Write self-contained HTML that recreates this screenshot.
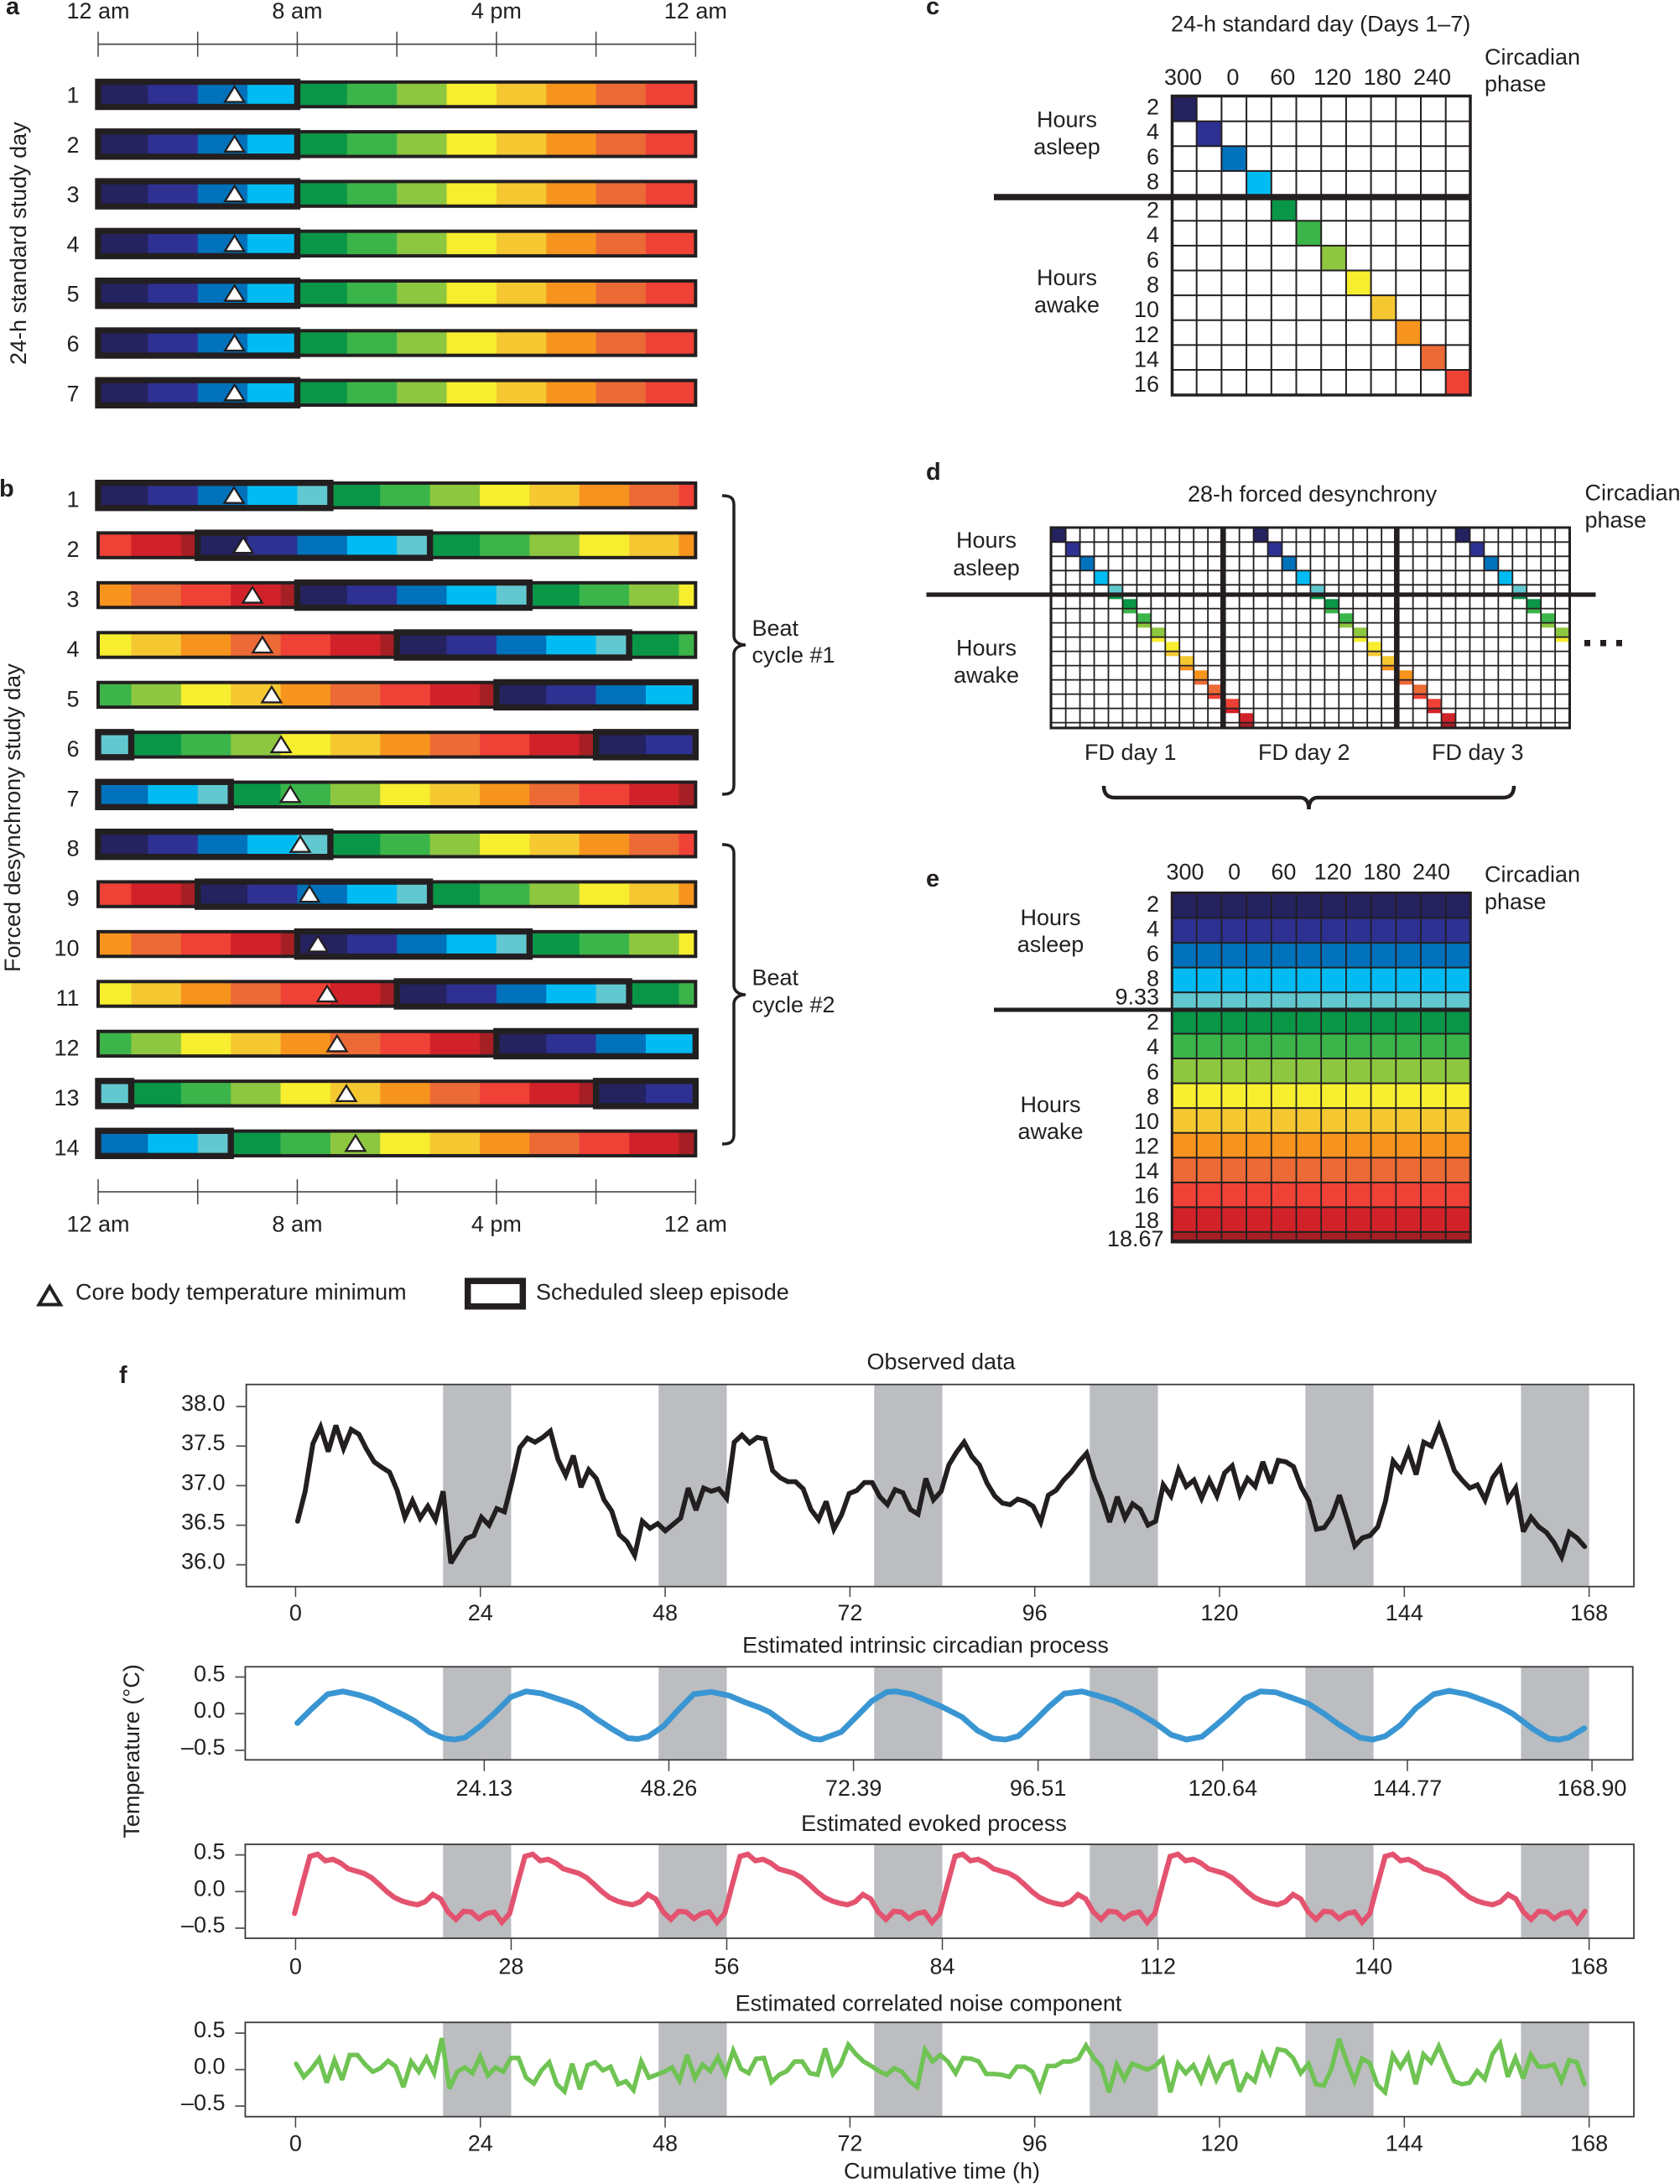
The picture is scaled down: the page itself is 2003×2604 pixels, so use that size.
<!DOCTYPE html>
<html lang="en">
<head>
<meta charset="utf-8">
<title>Forced desynchrony protocol and core body temperature decomposition</title>
<style>
html,body{margin:0;padding:0;background:#fff;}
svg{display:block;font-family:"Liberation Sans",Arial,sans-serif;font-size:27px;fill:#231f20;}
.m{text-anchor:middle;}
.e{text-anchor:end;}
.p{font-weight:bold;font-size:29px;}
</style>
</head>
<body>
<svg id="figure" xmlns="http://www.w3.org/2000/svg" width="2003" height="2604" viewBox="0 0 2003 2604">
  <rect x="0" y="0" width="2003" height="2604" fill="#fff"/>

  <g id="panel-a">
    <text class="p" x="7" y="17">a</text>
    <text transform="translate(31 435) rotate(-90)">24-h standard study day</text>
  </g>
  <g id="panel-b">
    <text class="p" x="-1" y="592">b</text>
    <text transform="translate(24 1159) rotate(-90)">Forced desynchrony study day</text>
    <path d="M861 591C870 591 875 593 875 602L875 758C875 764 880 769 889 769C880 769 875 774 875 780L875 936C875 945 870 947 861 947" fill="none" stroke="#231f20" stroke-width="3.5"/>
    <path d="M861 1007C870 1007 875 1009 875 1018L875 1175C875 1181 880 1186 889 1186C880 1186 875 1191 875 1197L875 1353C875 1362 870 1364 861 1364" fill="none" stroke="#231f20" stroke-width="3.5"/>
    <text x="896.5" y="758">Beat<tspan x="896.5" y="790">cycle #1</tspan></text>
    <text x="896.5" y="1174.5">Beat<tspan x="896.5" y="1207">cycle #2</tspan></text>
  </g>
  <g id="legend">
    <polygon points="59.2,1534 46.5,1555.5 72,1555.5" fill="#fff" stroke="#231f20" stroke-width="4"/>
    <text x="90" y="1549.5">Core body temperature minimum</text>
    <rect x="557.7" y="1527.3" width="65.6" height="30.4" fill="#fff" stroke="#231f20" stroke-width="7.5"/>
    <text x="639" y="1549.5">Scheduled sleep episode</text>
  </g>

  <g id="panel-c">
    <text class="p" x="1104" y="17">c</text>
    <text x="1396" y="37.5">24-h standard day (Days 1–7)</text>
    <text x="1770" y="77">Circadian<tspan x="1770" y="109">phase</tspan></text>
    <text class="m" x="1272" y="151.5">Hours<tspan x="1272" y="184">asleep</tspan></text>
    <text class="m" x="1272" y="340">Hours<tspan x="1272" y="372.5">awake</tspan></text>
  </g>
  <g id="panel-d">
    <text class="p" x="1104" y="572">d</text>
    <text x="1416" y="598">28-h forced desynchrony</text>
    <text x="1889.5" y="596.5">Circadian<tspan x="1889.5" y="629">phase</tspan></text>
    <text class="m" x="1176" y="653">Hours<tspan x="1176" y="686">asleep</tspan></text>
    <text class="m" x="1176" y="781.5">Hours<tspan x="1176" y="814">awake</tspan></text>
    <text x="1293" y="906">FD day 1</text>
    <text x="1500" y="906">FD day 2</text>
    <text x="1707" y="906">FD day 3</text>
    <path d="M1316 937C1316 946 1320 951 1329 951L1550 951C1556 951 1560.5 955 1560.5 965C1560.5 955 1565 951 1571 951L1792 951C1801 951 1805 946 1805 937" fill="none" stroke="#231f20" stroke-width="4.5"/>
    <rect x="1889" y="763" width="7" height="7.5" fill="#231f20"/>
    <rect x="1908" y="763" width="7" height="7.5" fill="#231f20"/>
    <rect x="1927" y="763" width="7" height="7.5" fill="#231f20"/>
  </g>
  <g id="panel-e">
    <text class="p" x="1104" y="1057">e</text>
    <text x="1770" y="1051.5">Circadian<tspan x="1770" y="1084">phase</tspan></text>
    <text class="m" x="1252.5" y="1103">Hours<tspan x="1252.5" y="1135">asleep</tspan></text>
    <text class="m" x="1252.5" y="1326">Hours<tspan x="1252.5" y="1358">awake</tspan></text>
  </g>
  <g id="panel-f">
    <text class="p" x="142" y="1649">f</text>
    <text class="m" x="1122" y="1632.5">Observed data</text>
    <text class="m" x="1103.5" y="1970.5">Estimated intrinsic circadian process</text>
    <text class="m" x="1113.5" y="2183">Estimated evoked process</text>
    <text class="m" x="1107" y="2397.5">Estimated correlated noise component</text>
    <text class="m" x="1123" y="2597.5">Cumulative time (h)</text>
    <text class="m" transform="translate(166 2088) rotate(-90)">Temperature (°C)</text>
  </g>
</svg>

<script>
// ---------- Protocol data ----------
const phaseColors = ['#24225f','#2e3192','#0072bc','#00bcf2','#62c8d0','#0a9647','#3bb54a','#8dc73f','#f6ee2f','#f5c832','#f7941d','#ec6a35','#ef4136','#d12229','#a61f24'];
const standardPhaseHours = [2,2,2,2,2,2,2,2,2,2,2,2];
const standardPhaseColors = [0,1,2,3,5,6,7,8,9,10,11,12];
const standardSleepHours = 8;
const standardDayHours = 24;
const standardDays = ['1','2','3','4','5','6','7'];
const standardMinimumHours = [5.48,5.48,5.48,5.48,5.48,5.48,5.48];
const fdPhaseHours = [2,2,2,2,1.33,2,2,2,2,2,2,2,2,2,0.67];
const fdSleepHours = 9.33;
const fdCycleHours = 28;
const fdDays = ['1','2','3','4','5','6','7','8','9','10','11','12','13','14'];
const fdMinimumHours = [5.46,5.83,6.2,6.6,6.97,7.35,7.72,8.12,8.49,8.83,9.2,9.6,9.97,10.34];
const clockTickHours = [0,4,8,12,16,20,24];
const clockLabelHours = [0,8,16,24];
const clockLabels = ['12 am','8 am','4 pm','12 am'];
const phaseLabels = ['300','0','60','120','180','240'];
const cRowLabels = ['2','4','6','8','2','4','6','8','10','12','14','16'];
const eRowLabels = ['2','4','6','8','9.33','2','4','6','8','10','12','14','16','18','18.67'];
const dDayStartColumns = [0,14,28];

// ---------- Temperature data ----------
const scheduledSleepStartHours = [19.15,47.15,75.15,103.15,131.15,159.15];
const scheduledSleepDurationHours = 8.85;
const observedValues = [36.55,36.93,37.53,37.74,37.43,37.76,37.47,37.71,37.65,37.46,37.30,37.23,37.17,36.94,36.60,36.81,36.59,36.74,36.57,36.93,36.02,36.18,36.33,36.37,36.60,36.50,36.71,36.67,37.05,37.48,37.60,37.55,37.61,37.69,37.33,37.13,37.38,36.98,37.20,37.09,36.82,36.68,36.38,36.29,36.12,36.55,36.46,36.52,36.43,36.51,36.59,36.97,36.69,36.97,36.93,36.96,36.84,37.55,37.64,37.54,37.61,37.59,37.19,37.10,37.05,37.05,36.96,36.70,36.57,36.80,36.45,36.63,36.90,36.94,37.04,37.04,36.86,36.76,36.95,36.91,36.70,36.64,37.09,36.82,36.93,37.26,37.42,37.55,37.37,37.26,37.03,36.87,36.78,36.76,36.83,36.80,36.74,36.54,36.88,36.94,37.07,37.17,37.30,37.41,37.09,36.84,36.54,36.86,36.59,36.77,36.70,36.50,36.55,37.01,36.87,37.20,36.99,37.07,36.84,37.07,36.87,37.16,37.25,36.89,37.09,36.99,37.30,37.03,37.32,37.30,37.24,36.98,36.81,36.45,36.47,36.61,36.88,36.57,36.24,36.34,36.37,36.48,36.80,37.31,37.19,37.44,37.14,37.55,37.50,37.75,37.48,37.19,37.07,36.97,37.01,36.82,37.10,37.23,36.82,36.97,36.42,36.60,36.48,36.41,36.28,36.10,36.41,36.34,36.23];
const circadianHours = [-0.3,1.68,3.67,5.66,7.66,9.65,11.64,13.64,14.97,16.96,18.95,20.28,21.61,23.6,25.6,27.59,29.59,31.58,33.57,35.57,36.9,38.89,40.88,42.88,44.2,45.53,47.53,49.52,51.51,53.84,56.16,58.16,60.15,61.48,63.47,65.47,67.13,68.12,70.78,72.78,74.77,76.76,77.94,79.94,81.94,83.94,86.6,88.6,90.6,92.26,93.93,95.93,97.93,99.92,102.26,104.25,106.59,109.25,111.92,113.91,115.91,117.91,119.58,121.24,123.57,125.57,127.57,129.9,131.9,133.9,135.9,138.56,140.23,141.9,143.89,145.89,148.22,150.22,152.55,154.55,156.88,158.55,161.21,163.21,164.54,165.88,167.88];
const circadianValues = [-0.128,0.075,0.265,0.303,0.258,0.189,0.082,-0.021,-0.097,-0.25,-0.337,-0.353,-0.326,-0.173,0.017,0.227,0.303,0.277,0.208,0.139,0.075,-0.078,-0.212,-0.334,-0.345,-0.315,-0.173,0.055,0.265,0.296,0.246,0.158,0.082,0.017,-0.135,-0.269,-0.345,-0.353,-0.25,-0.04,0.17,0.296,0.303,0.265,0.181,0.094,-0.048,-0.231,-0.337,-0.353,-0.307,-0.116,0.094,0.273,0.303,0.246,0.17,0.036,-0.135,-0.288,-0.353,-0.315,-0.173,-0.021,0.208,0.303,0.292,0.208,0.132,-0.002,-0.154,-0.326,-0.353,-0.307,-0.154,0.075,0.265,0.311,0.265,0.189,0.094,-0.002,-0.212,-0.337,-0.356,-0.326,-0.2];
const evokedValues = [
-0.30,0.10,0.48,0.51,0.42,0.44,0.39,0.31,0.28,0.25,0.19,0.10,0.00,-0.08,-0.13,-0.16,-0.18,-0.14,-0.04,-0.10,-0.28,-0.38,-0.27,-0.28,-0.37,-0.30,-0.28,-0.42,
-0.30,0.10,0.48,0.51,0.42,0.44,0.39,0.31,0.28,0.25,0.19,0.10,0.00,-0.08,-0.13,-0.16,-0.18,-0.14,-0.04,-0.10,-0.28,-0.38,-0.27,-0.28,-0.37,-0.30,-0.28,-0.42,
-0.30,0.10,0.48,0.51,0.42,0.44,0.39,0.31,0.28,0.25,0.19,0.10,0.00,-0.08,-0.13,-0.16,-0.18,-0.14,-0.04,-0.10,-0.28,-0.38,-0.27,-0.28,-0.37,-0.30,-0.28,-0.42,
-0.30,0.10,0.48,0.51,0.42,0.44,0.39,0.31,0.28,0.25,0.19,0.10,0.00,-0.08,-0.13,-0.16,-0.18,-0.14,-0.04,-0.10,-0.28,-0.38,-0.27,-0.28,-0.37,-0.30,-0.28,-0.42,
-0.30,0.10,0.48,0.51,0.42,0.44,0.39,0.31,0.28,0.25,0.19,0.10,0.00,-0.08,-0.13,-0.16,-0.18,-0.14,-0.04,-0.10,-0.28,-0.38,-0.27,-0.28,-0.37,-0.30,-0.28,-0.42,
-0.30,0.10,0.48,0.51,0.42,0.44,0.39,0.31,0.28,0.25,0.19,0.10,0.00,-0.08,-0.13,-0.16,-0.18,-0.14,-0.04,-0.10,-0.28,-0.38,-0.27,-0.28,-0.37,-0.30,-0.28,-0.42,
-0.27];
const noiseValues = [0.08,-0.10,0.01,0.15,-0.18,0.13,-0.14,0.20,0.20,0.07,-0.03,0.02,0.12,0.04,-0.24,0.11,-0.03,0.16,-0.05,0.43,-0.26,-0.03,0.03,-0.05,0.18,-0.08,0.03,-0.03,0.16,0.16,-0.11,-0.19,-0.01,0.10,-0.20,-0.30,0.08,-0.27,0.06,0.10,-0.01,0.04,-0.20,-0.16,-0.28,0.11,-0.11,-0.07,-0.03,0.03,-0.15,0.20,-0.12,0.07,-0.02,0.17,-0.06,0.26,0.01,-0.05,0.15,0.16,-0.17,-0.07,-0.02,0.11,0.11,-0.05,-0.07,0.29,-0.06,0.07,0.34,0.21,0.11,0.05,-0.02,-0.07,0.02,-0.03,-0.16,-0.24,0.27,0.11,0.20,0.11,-0.05,0.16,0.15,0.11,-0.06,-0.06,-0.07,-0.10,0.04,0.04,-0.03,-0.27,0.05,0.05,0.11,0.11,0.15,0.33,0.16,0.04,-0.31,0.07,-0.13,0.08,0.04,0.00,0.05,0.15,-0.31,0.08,-0.05,0.06,-0.16,0.13,-0.14,0.07,0.11,-0.30,-0.07,-0.16,0.20,-0.04,0.28,0.26,0.16,-0.05,0.08,-0.20,-0.22,0.01,0.42,0.11,-0.16,0.15,0.09,-0.21,-0.31,0.20,0.03,0.20,-0.20,0.21,0.10,0.32,0.07,-0.16,-0.20,-0.18,-0.02,-0.13,0.21,0.36,-0.10,0.16,-0.12,0.20,0.04,0.04,0.07,-0.16,0.13,0.10,-0.20];
const observedYTicks = [38.0,37.5,37.0,36.5,36.0];
const observedYLabels = ['38.0','37.5','37.0','36.5','36.0'];
const componentYTicks = [0.5,0,-0.5];
const componentYLabels = ['0.5','0.0','–0.5'];
const dayXTicks = [0,24,48,72,96,120,144,168];
const dayXLabels = ['0','24','48','72','96','120','144','168'];
const circadianXTicks = [24.13,48.26,72.39,96.51,120.64,144.77,168.90];
const circadianXLabels = ['24.13','48.26','72.39','96.51','120.64','144.77','168.90'];
const evokedXTicks = [0,28,56,84,112,140,168];
const evokedXLabels = ['0','28','56','84','112','140','168'];

// ---------- Helpers ----------
const SVGNS = 'http://www.w3.org/2000/svg';
const INK = '#231f20';
function make(parent, tag, props) {
  const el = document.createElementNS(SVGNS, tag);
  for (const key of Object.keys(props)) {
    el.setAttribute(key, props[key]);
  }
  parent.appendChild(el);
  return el;
}
function label(parent, x, y, str, anchor) {
  const el = make(parent, 'text', {x: x, y: y, 'text-anchor': anchor});
  el.textContent = str;
  return el;
}
const panelA = document.getElementById('panel-a');
const panelB = document.getElementById('panel-b');
const panelC = document.getElementById('panel-c');
const panelD = document.getElementById('panel-d');
const panelE = document.getElementById('panel-e');
const panelF = document.getElementById('panel-f');

// ---------- Panels a and b: raster rows ----------
const clockX = h => 117 + 29.68 * h;
const standardRowY = i => 112.5 + 59.3 * i;
const fdRowY = i => 590.7 + 59.43 * i;

function drawClockAxis(parent, axisY, labelY) {
  const rule = make(parent, 'line', {x1: clockX(0), x2: clockX(24), y1: axisY, y2: axisY, stroke: '#555', 'stroke-width': 1.8});
  
  
  clockTickHours.forEach(h => {
    const tick = make(parent, 'line', {x1: clockX(h), x2: clockX(h), y1: axisY - 15, y2: axisY + 15, stroke: '#444', 'stroke-width': 1.5});
    
    
  });
  clockLabelHours.forEach((h, i) => {
    const t = label(parent, clockX(h), labelY, clockLabels[i], 'middle');
    
    
  });
}

function drawRow(parent, cy, rowStart, phaseHours, colorIdx, cycleHours, sleepHours, minimumHour, rowName, labelOffset) {
  const group = make(parent, 'g', {});
  
  
  const rowEnd = rowStart + 24;
  const firstCycle = Math.floor(rowStart / cycleHours);
  const lastCycle = Math.floor(rowEnd / cycleHours);
  for (let k = firstCycle; k <= lastCycle; k++) {
    let t = k * cycleHours;
    phaseHours.forEach((dur, p) => {
      const a = Math.max(t, rowStart), b = Math.min(t + dur, rowEnd);
      if (b - a > 0.001) {
        const seg = make(group, 'rect', {x: clockX(a - rowStart), y: cy - 13, width: clockX(b - rowStart) - clockX(a - rowStart) + 0.3, height: 26, fill: phaseColors[colorIdx[p]]});
        
        
      }
      t += dur;
    });
  }
  const frame = make(group, 'rect', {x: clockX(0), y: cy - 14.7, width: clockX(24) - clockX(0), height: 29.4, fill: 'none', stroke: INK, 'stroke-width': 4});
  
  
  for (let k = firstCycle; k <= lastCycle; k++) {
    const a = Math.max(k * cycleHours, rowStart), b = Math.min(k * cycleHours + sleepHours, rowEnd);
    if (b - a > 0.001) {
      const box = make(group, 'rect', {x: clockX(a - rowStart), y: cy - 15, width: clockX(b - rowStart) - clockX(a - rowStart), height: 30, fill: 'none', stroke: INK, 'stroke-width': 7.4});
      
      
    }
  }
  const tx = clockX(minimumHour);
  const tri = make(group, 'polygon', {points: (tx) + ',' + (cy - 9.5) + ' ' + (tx - 11.5) + ',' + (cy + 9) + ' ' + (tx + 11.5) + ',' + (cy + 9), fill: '#fff', stroke: INK, 'stroke-width': 2.3});
  
  
  const num = label(group, 94.5, cy + labelOffset, rowName, 'end');
  
  
}

drawClockAxis(panelA, 52.7, 22);
standardDays.forEach((d, i) => {
  drawRow(panelA, standardRowY(i), 0, standardPhaseHours, standardPhaseColors, standardDayHours, standardSleepHours, standardMinimumHours[i], d, 10);
});
const fdColorIdx = fdPhaseHours.map((_, i) => i);
fdDays.forEach((d, i) => {
  drawRow(panelB, fdRowY(i), 24 * i, fdPhaseHours, fdColorIdx, fdCycleHours, fdSleepHours, fdMinimumHours[i], d, 14);
});
drawClockAxis(panelB, 1421, 1468.6);

// ---------- Panel c: 24-h grid ----------
const cColX = c => 1397 + 29.7 * c;
const cRowY = r => 115 + 29.64 * r;
standardPhaseColors.forEach((colorIndex, i) => {
  const cell = make(panelC, 'rect', {x: cColX(i), y: cRowY(i), width: 29.7, height: 29.64, fill: phaseColors[colorIndex]});
  
  
});
for (let c = 0; c <= 12; c++) {
  const gl = make(panelC, 'line', {x1: cColX(c), x2: cColX(c), y1: cRowY(0), y2: cRowY(12), stroke: INK, 'stroke-width': 2});
  
  
}
for (let r = 0; r <= 12; r++) {
  const gl = make(panelC, 'line', {x1: cColX(0), x2: cColX(12), y1: cRowY(r), y2: cRowY(r), stroke: INK, 'stroke-width': 2});
  
  
}
const cFrame = make(panelC, 'rect', {x: 1397.5, y: 114.5, width: 355.5, height: 356.5, fill: 'none', stroke: INK, 'stroke-width': 3.5});


const cDivider = make(panelC, 'line', {x1: 1185, x2: 1754.5, y1: 235, y2: 235, stroke: INK, 'stroke-width': 7.5});


cRowLabels.forEach((s, r) => {
  const t = label(panelC, 1382, cRowY(r) + (r < 4 ? 21.5 : 26), s, 'end');
  
  
});
phaseLabels.forEach((s, i) => {
  const t = label(panelC, 1410.5 + 59.4 * i, 101, s, 'middle');
  
  
});

// ---------- Panel d: forced desynchrony grid ----------
const dBlockX = b => 1253.7 + 207 * b;
const dColX = c => dBlockX(Math.floor(c / 12)) + (c % 12) * 16.95;
const dHourY = h => 629.3 + 8.5 * h;
dDayStartColumns.forEach(startCol => {
  for (let k = 0; k < 14; k++) {
    const col = startCol + k;
    if (col >= 36) continue;
    const top = 2 * k, bottom = 2 * k + 2;
    let t = 0;
    fdPhaseHours.forEach((dur, p) => {
      const a = Math.max(t, top), b = Math.min(t + dur, bottom);
      if (b - a > 0.001) {
        const cell = make(panelD, 'rect', {x: dColX(col), y: dHourY(a), width: 16.95, height: dHourY(b) - dHourY(a), fill: phaseColors[p]});
        
        
      }
      t += dur;
    });
  }
});
for (let c = 0; c < 36; c++) {
  const gl = make(panelD, 'line', {x1: dColX(c), x2: dColX(c), y1: dHourY(0), y2: dHourY(28), stroke: INK, 'stroke-width': 1.8});
  
  
}
let dCum = 0;
fdPhaseHours.forEach(dur => {
  dCum += dur;
  const gl = make(panelD, 'line', {x1: 1253, x2: 1871.5, y1: dHourY(dCum), y2: dHourY(dCum), stroke: INK, 'stroke-width': 1.8});
  
  
});
const dFrame = make(panelD, 'rect', {x: 1253, y: 629, width: 618.5, height: 239, fill: 'none', stroke: INK, 'stroke-width': 3});


[1, 2].forEach(b => {
  const sep = make(panelD, 'line', {x1: dBlockX(b) - 2.9, x2: dBlockX(b) - 2.9, y1: 629, y2: 868, stroke: INK, 'stroke-width': 5.6});
  
  
});
const dDivider = make(panelD, 'line', {x1: 1104.5, x2: 1902.5, y1: 709, y2: 709, stroke: INK, 'stroke-width': 5.3});



// ---------- Panel e: full grid ----------
const eColX = c => 1397 + 29.7 * c;
const eHourY = h => 1065 + 14.78 * h;
let eCum = 0;
fdPhaseHours.forEach((dur, p) => {
  for (let c = 0; c < 12; c++) {
    const cell = make(panelE, 'rect', {x: eColX(c), y: eHourY(eCum), width: 29.7, height: eHourY(eCum + dur) - eHourY(eCum), fill: phaseColors[p]});
    
    
  }
  eCum += dur;
});
for (let c = 0; c <= 12; c++) {
  const gl = make(panelE, 'line', {x1: eColX(c), x2: eColX(c), y1: eHourY(0), y2: eHourY(28), stroke: INK, 'stroke-width': 1.8});
  
  
}
eCum = 0;
fdPhaseHours.forEach((dur, p) => {
  eCum += dur;
  const gl = make(panelE, 'line', {x1: 1397, x2: 1753.5, y1: eHourY(eCum), y2: eHourY(eCum), stroke: INK, 'stroke-width': 2});
  
  
  const off = p < 4 ? -7.6 : p === 4 ? -5.3 : p === 14 ? 7 : -4.8;
  const t = label(panelE, p === 14 ? 1387.5 : 1382, eHourY(eCum) + off, eRowLabels[p], 'end');
  
  
});
const eFrame = make(panelE, 'rect', {x: 1397.3, y: 1064.5, width: 356, height: 416.5, fill: 'none', stroke: INK, 'stroke-width': 3});


const eDivider = make(panelE, 'line', {x1: 1185, x2: 1754.5, y1: 1204, y2: 1204, stroke: INK, 'stroke-width': 5});


phaseLabels.forEach((s, i) => {
  const t = label(panelE, 1413 + 58.7 * i, 1048.3, s, 'middle');
  
  
});

// ---------- Panel f: time series ----------
const dayX = h => 352.4 + 9.18 * h;
const circadianX = t => 357.2 + 9.123 * t;
const obsY = v => 1677 + (38 - v) * 94.35;
const circY = v => 2043.2 - 87.4 * v;
const evokY = v => 2255.3 - 87.3 * v;
const noisY = v => 2467.6 - 87 * v;

function drawAxes(box, yScale, yTicks, yLabels, xScale, xTicks, xLabels, tickEnd, labelY, panelName) {
  const group = make(panelF, 'g', {});
  
  
  scheduledSleepStartHours.forEach(h => {
    const band = make(group, 'rect', {x: dayX(h), y: box.top, width: dayX(h + scheduledSleepDurationHours) - dayX(h), height: box.bottom - box.top, fill: '#bbbdc0'});
    
    
  });
  const frame = make(group, 'rect', {x: box.left, y: box.top, width: box.right - box.left, height: box.bottom - box.top, fill: 'none', stroke: '#3a3a3a', 'stroke-width': 1.8});
  
  
  yTicks.forEach((v, i) => {
    const tick = make(group, 'line', {x1: box.left - 12, x2: box.left, y1: yScale(v), y2: yScale(v), stroke: '#555', 'stroke-width': 1.8});
    
    
    const t = label(group, 268.5, yScale(v) + 5, yLabels[i], 'end');
    
    
  });
  xTicks.forEach((h, i) => {
    const tick = make(group, 'line', {x1: xScale(h), x2: xScale(h), y1: box.bottom, y2: tickEnd, stroke: '#444', 'stroke-width': 1.5});
    
    
    const t = label(group, xScale(h), labelY, xLabels[i], 'middle');
    
    
  });
  return group;
}
function drawCurve(group, xs, ys, color, width, name) {
  const pts = xs.map((x, i) => x.toFixed(1) + ',' + ys[i].toFixed(1)).join(' ');
  const curve = make(group, 'polyline', {points: pts, fill: 'none', stroke: color, 'stroke-width': width, 'stroke-linejoin': 'miter', 'stroke-miterlimit': 3, 'stroke-linecap': 'round'});
  
  
}

const obsGroup = drawAxes({left: 293.6, right: 1948, top: 1650.7, bottom: 1891.7}, obsY, observedYTicks, observedYLabels, dayX, dayXTicks, dayXLabels, 1904, 1932, 'observed-data-plot');
drawCurve(obsGroup, observedValues.map((_, i) => dayX(0.26 + 0.995 * i)), observedValues.map(obsY), INK, 5.8, 'observed-temperature-line');

const circGroup = drawAxes({left: 292.4, right: 1946.7, top: 1987.3, bottom: 2098.3}, circY, componentYTicks, componentYLabels, circadianX, circadianXTicks, circadianXLabels, 2111.7, 2141, 'circadian-process-plot');
drawCurve(circGroup, circadianHours.map(circadianX), circadianValues.map(circY), '#3a96d2', 6.8, 'circadian-process-line');

const evokGroup = drawAxes({left: 292.4, right: 1948, top: 2199, bottom: 2311}, evokY, componentYTicks, componentYLabels, dayX, evokedXTicks, evokedXLabels, 2325, 2353.3, 'evoked-process-plot');
drawCurve(evokGroup, evokedValues.map((_, i) => dayX(-0.13 + 0.9975 * i)), evokedValues.map(evokY), '#e3536f', 6.2, 'evoked-process-line');

const noisGroup = drawAxes({left: 292.4, right: 1948, top: 2411.3, bottom: 2523.7}, noisY, componentYTicks, componentYLabels, dayX, dayXTicks, dayXLabels, 2536.7, 2564.3, 'noise-component-plot');
drawCurve(noisGroup, noiseValues.map((_, i) => dayX(0.07 + 0.996 * i)), noiseValues.map(noisY), '#6fc353', 5.4, 'noise-component-line');
</script>
</body>
</html>
